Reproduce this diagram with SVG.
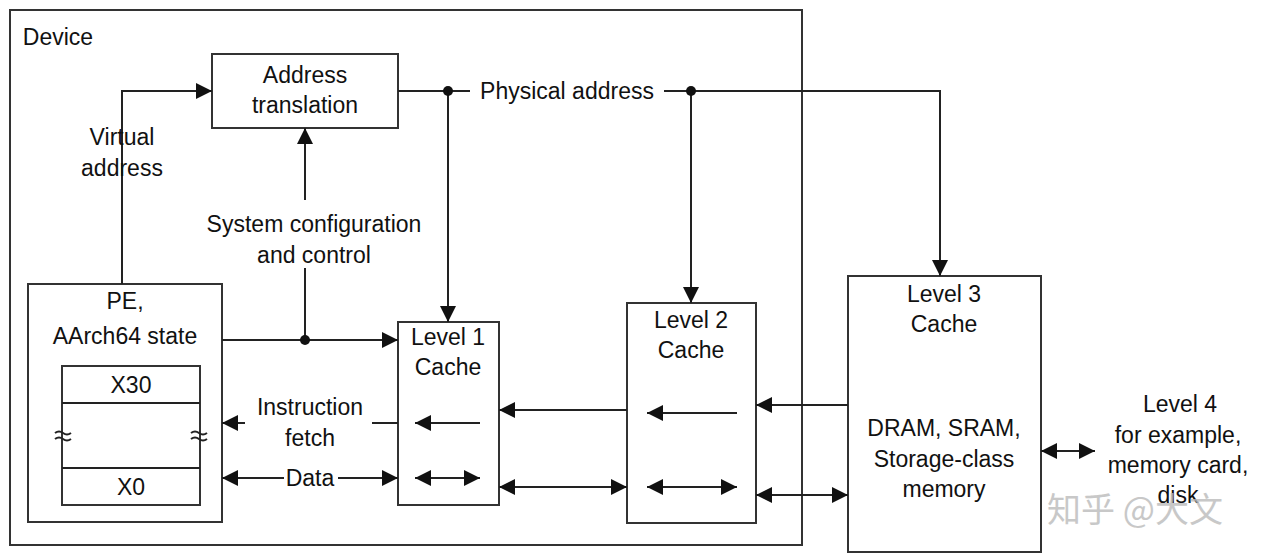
<svg xmlns="http://www.w3.org/2000/svg" width="1267" height="559" viewBox="0 0 1267 559">
<style>
.b{fill:#fff;stroke:#333;stroke-width:2}
.l{fill:none;stroke:#222;stroke-width:2}
text{font-family:"Liberation Sans",Arial,sans-serif;font-size:23px;fill:#111;text-anchor:middle}
</style>
<defs>
<marker id="a" viewBox="0 0 10 10" refX="10" refY="5" markerWidth="16" markerHeight="16" markerUnits="userSpaceOnUse" orient="auto-start-reverse"><path d="M0,0L10,5L0,10z" fill="#111"/></marker>
</defs>
<rect width="1267" height="559" fill="#fff"/>
<g id="device"><rect class="b" x="10" y="10" width="792" height="535"/><text x="58" y="45">Device</text></g>
<g id="addr"><rect class="b" x="212" y="54" width="186" height="74"/><text x="305" y="83">Address</text><text x="305" y="113">translation</text></g>
<g id="pe"><rect class="b" x="28" y="284" width="194" height="238"/><text x="125" y="309">PE,</text><text x="125" y="344">AArch64 state</text>
<rect class="b" x="62" y="366" width="138" height="139"/><line class="l" x1="62" y1="403" x2="200" y2="403"/><line class="l" x1="62" y1="468" x2="200" y2="468"/>
<text x="131" y="393">X30</text><text x="131" y="495">X0</text>
<path class="l" stroke-width="1.5" d="M55,433q4,-3 8,0t8,0M55,439q4,-3 8,0t8,0M191,433q4,-3 8,0t8,0M191,439q4,-3 8,0t8,0"/></g>
<g id="l1"><rect class="b" x="398" y="322" width="101" height="183"/><text x="448" y="345">Level 1</text><text x="448" y="375">Cache</text></g>
<g id="l2"><rect class="b" x="627" y="303" width="129" height="220"/><text x="691" y="328">Level 2</text><text x="691" y="358">Cache</text></g>
<g id="l3"><rect class="b" x="848" y="276" width="193" height="276"/><text x="944" y="302">Level 3</text><text x="944" y="332">Cache</text>
<text x="944" y="436">DRAM, SRAM,</text><text x="944" y="467">Storage-class</text><text x="944" y="497">memory</text></g>
<g id="l4"><text x="1180" y="412">Level 4</text><text x="1178" y="443">for example,</text><text x="1178" y="473">memory card,</text><text x="1178" y="503">disk</text></g>
<g id="connectors">
<path class="l" d="M122,284V91H212" marker-end="url(#a)"/>
<path class="l" d="M398,91H470M664,91H940V276" marker-end="url(#a)"/>
<path class="l" d="M448,91V322" marker-end="url(#a)"/>
<path class="l" d="M691,91V303" marker-end="url(#a)"/>
<path class="l" d="M305,200V128" marker-end="url(#a)"/>
<path class="l" d="M305,268V340"/>
<path class="l" d="M222,340H398" marker-end="url(#a)"/>
<circle cx="305" cy="340" r="5" fill="#111"/><circle cx="448" cy="91" r="5" fill="#111"/><circle cx="691" cy="91" r="5" fill="#111"/>
<text x="567" y="99">Physical address</text>
<text x="122" y="145">Virtual</text><text x="122" y="176">address</text>
<text x="314" y="232">System configuration</text><text x="314" y="263">and control</text>
<path class="l" d="M398,423H372"/><path class="l" d="M245,423H222" marker-end="url(#a)"/>
<text x="310" y="415">Instruction</text><text x="310" y="446">fetch</text>
<path class="l" d="M284,478H222" marker-end="url(#a)"/><path class="l" d="M338,478H398" marker-end="url(#a)"/>
<text x="310" y="486">Data</text>
<path class="l" d="M480,423H415" marker-end="url(#a)"/>
<path class="l" d="M415,478H480" marker-start="url(#a)" marker-end="url(#a)"/>
<path class="l" d="M627,410H499" marker-end="url(#a)"/>
<path class="l" d="M499,487H627" marker-start="url(#a)" marker-end="url(#a)"/>
<path class="l" d="M737,413H647" marker-end="url(#a)"/>
<path class="l" d="M647,487H737" marker-start="url(#a)" marker-end="url(#a)"/>
<path class="l" d="M848,405H756" marker-end="url(#a)"/>
<path class="l" d="M756,495H848" marker-start="url(#a)" marker-end="url(#a)"/>
<path class="l" d="M1041,451H1095" marker-start="url(#a)" marker-end="url(#a)"/>
</g>
<g id="watermark"><text x="1135" y="522" style="font-family:'Noto Sans CJK SC',sans-serif;font-size:34px;fill:#bbb;opacity:0.8">知乎 @大文</text></g>
</svg>
